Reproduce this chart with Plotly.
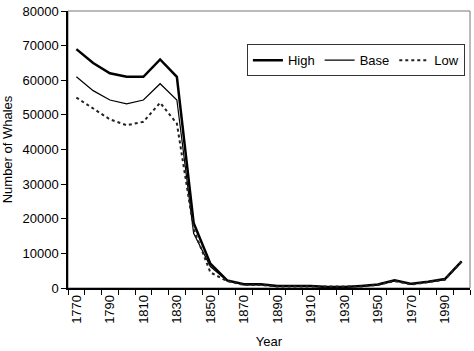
import plotly.graph_objects as go

years = list(range(1770, 2001, 10))
high = [69000, 65000, 62000, 61000, 61000, 66000, 61000, 18800, 7000, 2200, 1100, 1100, 600, 600, 600, 300, 300, 600, 1000, 2200, 1200, 1800, 2600, 7700]
base = [61000, 57000, 54300, 53200, 54300, 59000, 54300, 15800, 6200, 2100, 1000, 1000, 500, 500, 500, 200, 300, 500, 900, 2100, 1100, 1700, 2500, 7700]
low = [55000, 51800, 48700, 47000, 48000, 53500, 47500, 17000, 4500, 2000, 900, 900, 400, 400, 400, 200, 200, 400, 900, 2000, 1000, 1600, 2400, 7700]

tick_years = list(range(1770, 2000, 20))
y_ticks = list(range(0, 80001, 10000))

fig = go.Figure()
fig.add_trace(go.Scatter(x=years, y=high, name="High", mode="lines",
                         line=dict(color="black", width=2.5)))
fig.add_trace(go.Scatter(x=years, y=base, name="Base", mode="lines",
                         line=dict(color="black", width=1.2)))
fig.add_trace(go.Scatter(x=years, y=low, name="Low", mode="lines",
                         line=dict(color="#222", width=2, dash="dot")))

fig.update_layout(
    width=474, height=351,
    margin=dict(l=68, r=4, t=10, b=61),
    paper_bgcolor="white", plot_bgcolor="white",
    font=dict(family="Liberation Sans, Arial, sans-serif", size=13, color="black"),
    showlegend=True,
    legend=dict(orientation="h", x=0.445, y=0.88, xanchor="left", yanchor="top",
                bordercolor="#333", borderwidth=1, bgcolor="white",
                font=dict(size=13), itemwidth=30, tracegroupgap=0),
    shapes=[dict(type="rect", xref="paper", yref="paper", x0=0, y0=0, x1=1, y1=1,
                 line=dict(color="#777", width=1), layer="below")],
)
fig.update_xaxes(
    range=[1765, 2005], tickmode="array", tickvals=tick_years,
    ticktext=[str(y) for y in tick_years], tickangle=-90,
    ticks="", showgrid=False, zeroline=False,
    showline=True, linecolor="black", linewidth=1.5,
    minor=dict(tick0=1765, dtick=10, ticks="outside", ticklen=5, tickcolor="black", showgrid=False),
    title=dict(text="Year", font=dict(size=13), standoff=14),
)
fig.update_yaxes(
    range=[0, 80000], tickmode="array", tickvals=y_ticks,
    ticktext=[str(v) for v in y_ticks],
    ticks="outside", ticklen=5, tickcolor="black", showgrid=False, zeroline=False,
    showline=True, linecolor="black", linewidth=1.5,
    title=dict(text="Number of Whales", font=dict(size=13), standoff=8),
)
fig.write_html("out.html")
